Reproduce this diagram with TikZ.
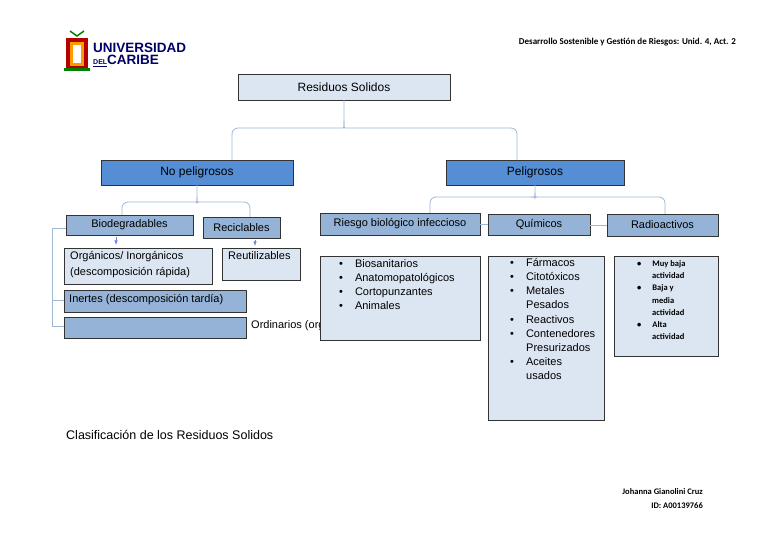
\documentclass[tikz,border=0pt]{standalone}
\usepackage{fontspec}
\setmainfont{Liberation Sans}
\newfontfamily\carl{Carlito}
\begin{document}
\begin{tikzpicture}[x=1pt,y=-1pt,
 light/.style={draw=black!80,fill=lb,line width=0.8pt},
 mid/.style={draw=black!80,fill=mb,line width=0.8pt},
 dark/.style={draw=black!80,fill=db,line width=0.8pt},
 con/.style={draw=cl,line width=0.8pt,rounded corners=6pt},
 txt/.style={font=\fontsize{11}{13}\selectfont,inner sep=0pt},
 it/.style={font=\fontsize{11}{13}\selectfont,inner sep=0pt,align=left,anchor=north west}]
\definecolor{lb}{HTML}{DCE6F2}
\definecolor{mb}{HTML}{95B3D7}
\definecolor{db}{HTML}{558ED5}
\definecolor{cl}{HTML}{9DB7D5}
\useasboundingbox (0,0) rectangle (768,543);
% logo
\fill[red!70!black] (66,38) rectangle (88,70);
\fill[orange!80!yellow] (70,42) rectangle (84,66);
\fill[white] (73,45) rectangle (81,63);
\fill[green!50!black] (64,68) rectangle (90,71);
\draw[green!50!black,line width=1.5pt] (70,31)--(77,36)--(84,31);
\node[anchor=west,inner sep=0pt,font=\bfseries\fontsize{13.5}{13}\selectfont,text=blue!40!black] (u1) at (93,48) {UNIVERSIDAD};
\node[anchor=west,inner sep=0pt,font=\bfseries\fontsize{13.5}{13}\selectfont,text=blue!40!black] (u2) at (93,61) {{\fontsize{7}{7}\selectfont\underline{DEL}}CARIBE};
\node[anchor=east,inner sep=0pt,font=\carl\bfseries\fontsize{9}{10}\selectfont] (hd) at (736,42) {Desarrollo Sostenible y Gestión de Riesgos: Unid. 4, Act. 2};
% main boxes
\draw[light] (238,74) rectangle (450,100);
\node[txt,font=\fontsize{12}{13}\selectfont] (rs) at (344,87) {Residuos Solidos};
\draw[dark] (101,160) rectangle (293,185);
\node[txt,font=\fontsize{12}{13}\selectfont] (np) at (197,172.5) {No peligrosos};
\draw[dark] (446,160) rectangle (624,185);
\node[txt,font=\fontsize{12}{13}\selectfont] (pe) at (535,172.5) {Peligrosos};
% braces
\coordinate (b1) at (344,100);
\draw[con] (b1) -- (344,121) .. controls (344,128) .. (337,128) -- (232,128) -- (232,160);
\draw[con] (344,121) .. controls (344,128) .. (351,128) -- (517,128) -- (517,160);
\draw[con] (197,185) -- (197,197) .. controls (197,202) .. (192,202) -- (122,202) -- (122,215);
\draw[con] (197,197) .. controls (197,202) .. (202,202) -- (250,202) -- (250,217);
\draw[con] (535,185) -- (535,193) .. controls (535,197) .. (531,197) -- (430,197) -- (430,213);
\draw[con] (535,193) .. controls (535,197) .. (539,197) -- (665,197) -- (665,214);
% second level
\draw[mid] (66,215) rectangle (193,235);
\node[txt] (bio) at (129.5,225) {Biodegradables};
\draw[mid] (203,217) rectangle (280,238);
\node[txt] (rec) at (241.5,227.5) {Reciclables};
\draw[mid] (320,213) rectangle (480,235);
\node[txt] (rb) at (400,224) {Riesgo biológico infeccioso};
\draw[mid] (488,214) rectangle (590,235);
\node[txt] (qu) at (539,224.5) {Químicos};
\draw[mid] (607,214) rectangle (718,236);
\node[txt] (ra) at (662.5,225) {Radioactivos};
\draw[cl,line width=0.8pt] (480,224.5)--(488,224.5) (590,225)--(607,225);
% small arrows
\draw[cl!70!blue,line width=0.6pt,-{latex}] (116,237)--(116,245);
\draw[cl!70!blue,line width=0.6pt,-{latex}] (255,240)--(255,246);
% left bracket
\draw[cl,line width=0.8pt] (66,228)--(52,228)--(52,326)--(64,326) (52,300)--(64,300);
% sub boxes
\draw[light] (64,248) rectangle (212,284);
\node[it] (org) at (70,251) {Orgánicos/ Inorgánicos\\[3pt](descomposición rápida)};
\draw[light] (222,248) rectangle (300,280);
\node[it] (reu) at (228,251) {Reutilizables};
\draw[mid] (64,290) rectangle (246,312);
\node[txt,anchor=west] (ine) at (69,300) {Inertes (descomposición tardía)};
\draw[mid] (64,317) rectangle (246,338);
\node[txt,anchor=west] (ord) at (251,326) {Ordinarios (orgánicos)};
% lists
\draw[light] (320,256) rectangle (480,340);
\node[it,font=\fontsize{11}{14}\selectfont] (l1) at (339,259) {\textbullet\hspace{12pt}Biosanitarios\\\textbullet\hspace{12pt}Anatomopatológicos\\\textbullet\hspace{12pt}Cortopunzantes\\\textbullet\hspace{12pt}Animales};
\draw[light] (488,256) rectangle (604,420);
\node[it,font=\fontsize{11}{14.2}\selectfont] (l2) at (510,258) {\textbullet\hspace{12pt}Fármacos\\\textbullet\hspace{12pt}Citotóxicos\\\textbullet\hspace{12pt}Metales\\\hspace*{16pt}Pesados\\\textbullet\hspace{12pt}Reactivos\\\textbullet\hspace{12pt}Contenedores\\\hspace*{16pt}Presurizados\\\textbullet\hspace{12pt}Aceites\\\hspace*{16pt}usados};
\draw[light] (614,256) rectangle (718,356);
\node[it,font=\carl\bfseries\fontsize{8.5}{12.3}\selectfont] (l3) at (637,260) {\textbullet\hspace{11pt}Muy baja\\\hspace*{15pt}actividad\\\textbullet\hspace{11pt}Baja y\\\hspace*{15pt}media\\\hspace*{15pt}actividad\\\textbullet\hspace{11pt}Alta\\\hspace*{15pt}actividad};
% caption & footer
\node[txt,anchor=west,font=\fontsize{12.5}{14}\selectfont] (cap) at (66,435) {Clasificación de los Residuos Solidos};
\node[anchor=east,inner sep=0pt,font=\carl\bfseries\fontsize{8.5}{10}\selectfont] (f1) at (703,492) {Johanna Gianolini Cruz};
\node[anchor=east,inner sep=0pt,font=\carl\bfseries\fontsize{8.5}{10}\selectfont] (f2) at (703,506) {ID: A00139766};
\end{tikzpicture}
\end{document}
